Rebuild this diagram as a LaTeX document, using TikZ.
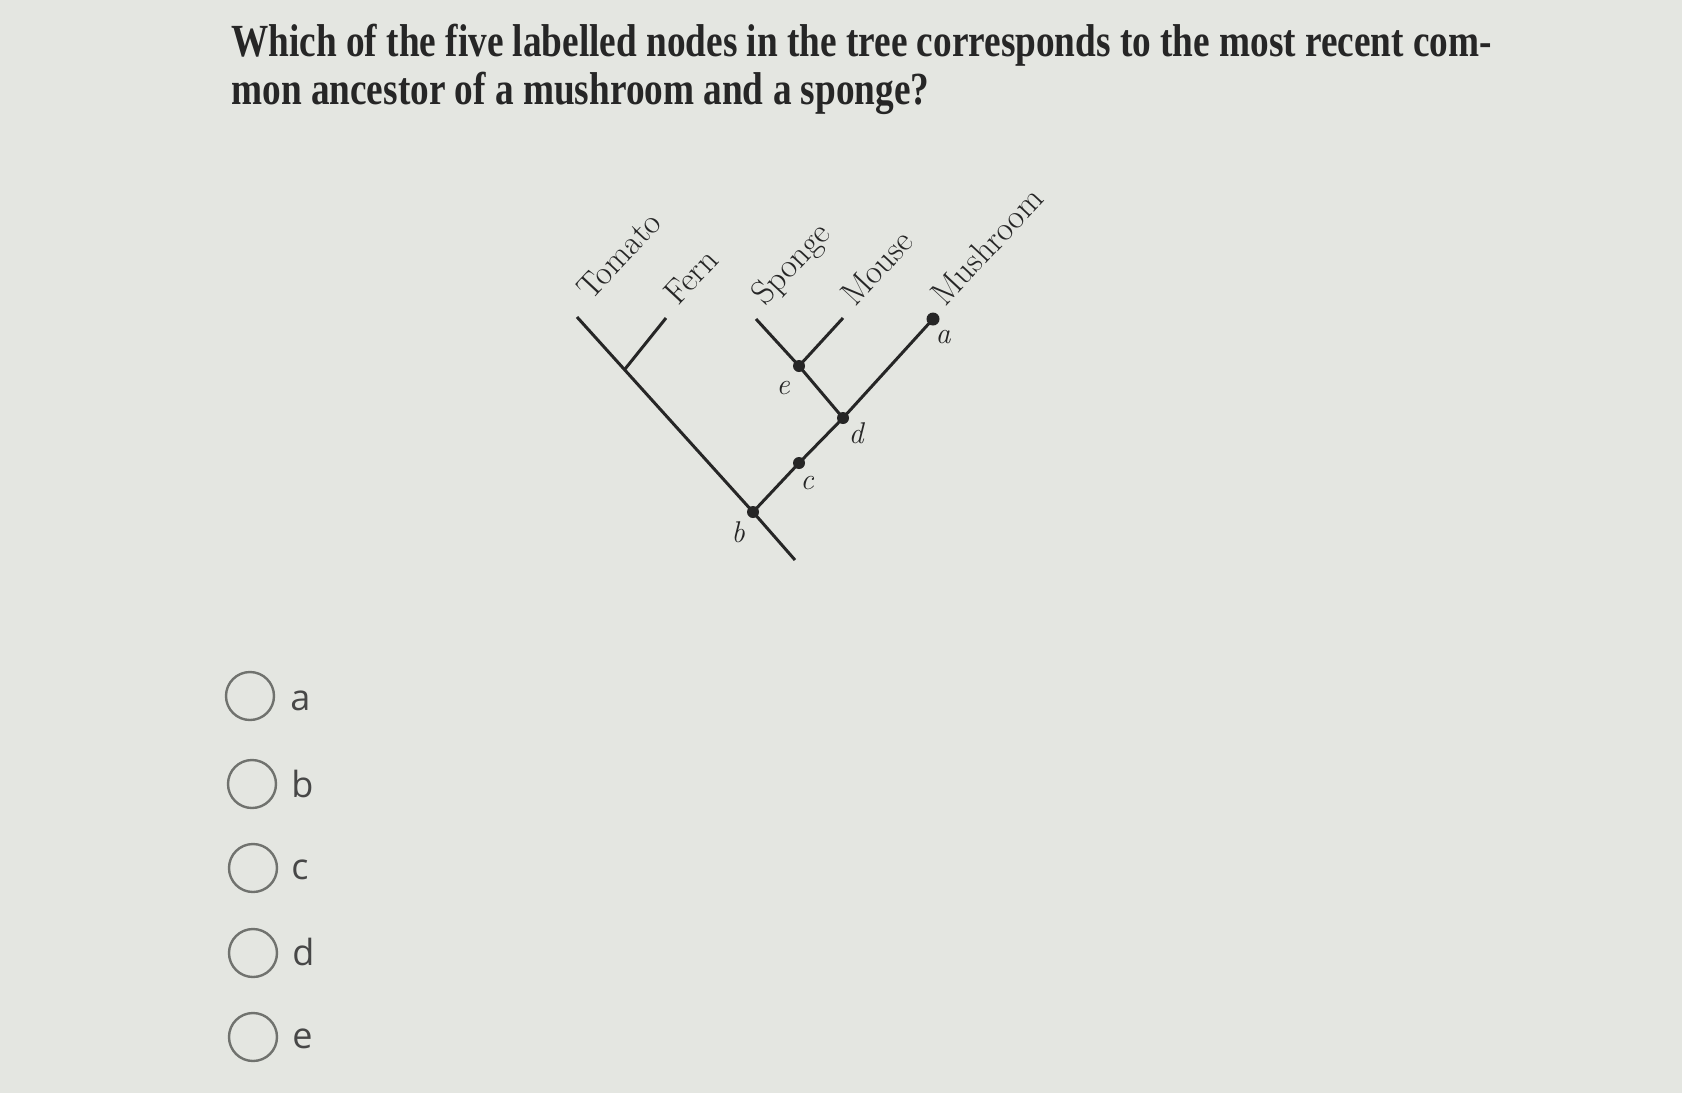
\documentclass[tikz,border=0pt]{standalone}
\usepackage{fontspec}
\usepackage{tikz}
\newfontfamily\questionfont[FakeStretch=0.81]{Liberation Serif}
\newfontfamily\optionfont{Open Sans}
\usetikzlibrary{calc}
\usetikzlibrary{positioning}

\definecolor{screen_bg}{RGB}{228,230,225}
\definecolor{ink}{RGB}{38,38,38}
\definecolor{radio_gray}{RGB}{112,114,110}

\begin{document}
\begin{tikzpicture}[x=0.5pt, y=-0.5pt,
        dot_style/.style={circle,fill=ink,inner sep=0pt,minimum size=6pt},
        tip_style/.style={circle,fill=ink,inner sep=0pt,minimum size=6.5pt},
        edge_style/.style={draw=ink,line width=1.5pt},
        leaf_style/.style={anchor=base west,rotate=47,inner sep=0pt,text=ink,font=\fontsize{17}{20}\selectfont},
        letter_style/.style={inner sep=0pt,text=ink,font=\fontsize{15}{18}\selectfont\itshape},
        radio_style/.style={circle,draw=radio_gray,line width=1.2pt,minimum size=24pt,inner sep=0pt},
        option_style/.style={anchor=base west,inner sep=0pt,text=ink!85,font=\optionfont\fontsize{18}{22}\selectfont}]

        \fill [screen_bg] (0,0) rectangle (1682,1093);
        \useasboundingbox (0,0) rectangle (1682,1093);

        % question
        \node [anchor=base west,align=left,inner sep=0pt,text=ink,font=\questionfont\bfseries\fontsize{23}{24}\selectfont] (q) at (231,104)
            {Which of the five labelled nodes in the tree corresponds to the most recent com-\\mon ancestor of a mushroom and a sponge?};

        % tree
        \coordinate (root) at (795,560);
        \coordinate (t1) at (577,317);
        \coordinate (t2) at (666,318);
        \coordinate (t3) at (756,319);
        \coordinate (t4) at (843,318);
        \node [dot_style] (nb) at (753,512) {};
        \node [dot_style] (nc) at (799,463) {};
        \node [dot_style] (nd) at (843,418) {};
        \node [dot_style] (ne) at (799,366) {};
        \node [tip_style] (na) at (933,319) {};
        \coordinate (j1) at ($(t1)!0.27!(nb)$);

        \draw [edge_style] (t1) -- (nb.center) -- (root);
        \draw [edge_style] (j1) -- (t2);
        \draw [edge_style] (nb.center) -- (nc.center) -- (nd.center) -- (na.center);
        \draw [edge_style] (nd.center) -- (ne.center) -- (t3);
        \draw [edge_style] (ne.center) -- (t4);

        \node [leaf_style] (l1) at (591,302) {Tomato};
        \node [leaf_style] (l2) at (678,307) {Fern};
        \node [leaf_style] (l3) at (765,307) {Sponge};
        \node [leaf_style] (l4) at (855,308) {Mouse};
        \node [leaf_style] (l5) at (945,308) {Mushroom};

        \node [letter_style] (la) at (943,337) {a};
        \node [letter_style] (lb) at (738,532) {b};
        \node [letter_style] (lc) at (807,483) {c};
        \node [letter_style] (ld) at (856,433) {d};
        \node [letter_style] (le) at (783,388) {e};

        % answers
        \node [radio_style] (r1) at (250,696) {};
        \node [radio_style] (r2) at (252,784) {};
        \node [radio_style] (r3) at (253,868) {};
        \node [radio_style] (r4) at (253,953) {};
        \node [radio_style] (r5) at (253,1037) {};
        \node [option_style] (o1) at (290,710) {a};
        \node [option_style] (o2) at (291,797) {b};
        \node [option_style] (o3) at (291,879) {c};
        \node [option_style] (o4) at (292,965) {d};
        \node [option_style] (o5) at (292,1048) {e};
\end{tikzpicture}
\end{document}
